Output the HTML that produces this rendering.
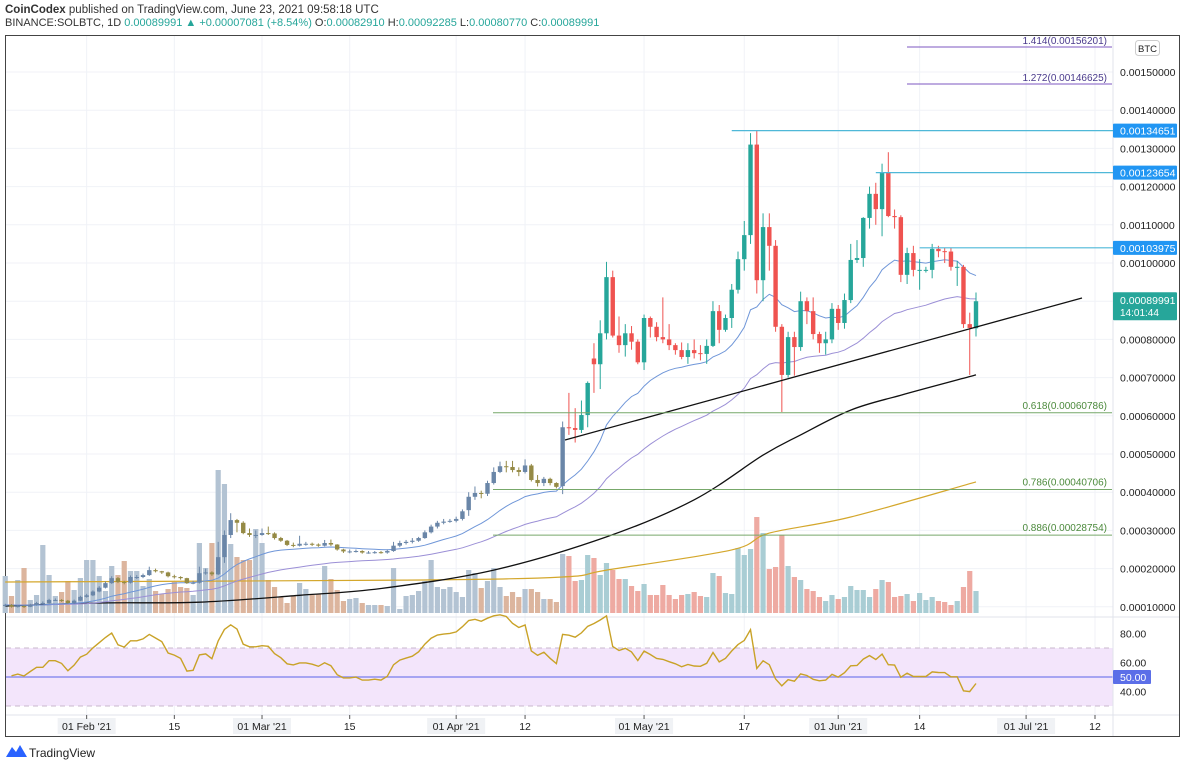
<!DOCTYPE html>
<html><head><meta charset="utf-8"><style>
html,body{margin:0;padding:0;background:#fff;}
svg{display:block;font-family:"Liberation Sans",sans-serif;}
</style></head><body>
<svg id="chart" width="1186" height="768" viewBox="0 0 1186 768" xmlns="http://www.w3.org/2000/svg">
<text x="5" y="13" font-size="11.5" fill="#333"><tspan font-weight="bold">CoinCodex</tspan> published on TradingView.com, June 23, 2021 09:58:18 UTC</text>
<text x="5" y="26" font-size="11" fill="#333">BINANCE:SOLBTC, 1D <tspan fill="#26a69a">0.00089991 ▲ +0.00007081 (+8.54%)</tspan> O:<tspan fill="#26a69a">0.00082910</tspan> H:<tspan fill="#26a69a">0.00092285</tspan> L:<tspan fill="#26a69a">0.00080770</tspan> C:<tspan fill="#26a69a">0.00089991</tspan></text>
<rect x="5.5" y="35.5" width="1174" height="701" fill="none" stroke="#444" stroke-width="1"/>
<g id="grid"></g>
<rect x="6" y="648" width="1107" height="58" fill="#f3e5fb"/>
<line x1="6" x2="1113" y1="648" y2="648" stroke="#c8b8cc" stroke-dasharray="5,4"/>
<line x1="6" x2="1113" y1="706" y2="706" stroke="#c8b8cc" stroke-dasharray="5,4"/>
<line x1="6" x2="1113" y1="677" y2="677" stroke="#8c8ff0" stroke-width="1.5"/>
<line x1="6" x2="1179" y1="617" y2="617" stroke="#e0e3eb"/>
<line x1="6" x2="1179" y1="715" y2="715" stroke="#e0e3eb"/>
<line x1="1113" x2="1113" y1="36" y2="736" stroke="#e0e3eb"/>
<g id="vol"></g>
<g id="mas"></g>
<g id="candles"></g>
<g id="drawings"></g>
<g id="axes"></g>
<g id="rsi"></g>
<g>
<path d="M6 757 L12 747 L16 752 L20 745 L27 757 Z" fill="#2962ff"/>
<text x="29" y="757" font-size="12" fill="#222">TradingView</text>
</g>
</svg>
<script>
// ---- data (price in units of 0.00001 BTC) ----
const closes=[10.5,10,10.2,10,10.5,11,11,11.8,11.8,11.6,11,11.6,12.6,13,14,15,16.2,17.5,16.5,16.3,17.8,17.8,18.3,19.6,19.3,19,18,17.8,17.5,16.2,16.3,18.8,19,18.5,23,28.8,32.7,32,29.3,28.8,28.8,29.3,29.2,28,27.3,26.2,26,26.5,26.5,26.3,26,26.7,26.3,25,24.5,24.5,24.6,24.2,24.2,24.3,24.2,24.6,26,26.7,
27,27.3,28,29.5,31,32,32.3,32.5,33,35,
38.8,39.8,39.6,42.4,45.3,46.8,46.6,45.8,45.3,47,43.2,42.4,43.5,42.4,41.4,57,56.8,56.3,60.2,68.6,73.5,81.6,96.3,81,78.5,81.6,79.4,74,85.6,83.3,80.6,80,78.5,77.2,75.4,77.2,76.4,76.2,78.3,
87.4,82.5,85.6,93,101,107.3,131,95.5,109.4,104.5,83.3,70.7,80.6,78,90,87.4,81.4,79,80,88,84.3,90.3,100.8,101.3,111.8,118.1,114.1,123.8,112.3,112,96.9,102.6,98.2,98.2,98.2,103.7,103.1,103,99,99,84,83,89.991];
const opens=[10.3,10.5,10,10.2,10,10.5,11,11,11.8,11.8,11.6,11,11.6,12.6,13,14,15,16.2,17.5,16.5,16.3,17.8,17.8,18.3,19.6,19.3,19,18,17.8,17.5,16.2,16.3,18.8,19,18.5,23,28.8,32.7,32,29.3,28.8,28.8,29.3,29.2,28,27.3,26.2,26,26.5,26.5,26.3,26,26.7,26.3,25,24.5,24.5,24.6,24.2,24.2,24.3,24.2,24.6,26,
26.7,27,27.3,28,29.5,31,32,32.3,32.5,33,
35.3,38.8,39.8,39.6,42.4,45.3,46.8,46.6,45.8,45.3,47,43.2,42.4,43.5,42.4,41.6,57,56.8,56.3,60.2,75,73.5,81.6,96.3,81,78.5,81.6,79.4,74,85.6,83.3,80.6,80,78.5,77.2,75.4,77.2,76.4,76.2,
78.3,87.4,82.5,85.6,93,101,107.3,131,95.5,109.4,104.5,83.3,70.7,80.6,78,90,87.4,81.4,79,80,88,84.3,90.3,100.8,101.3,111.8,118.1,114.1,123.8,112.3,112,96.9,102.6,98.2,98.2,98.2,103.7,103.1,103,99,99,84,82.91];
const highs=[10.8,10.7,10.5,10.4,10.8,11.3,11.4,12.1,12.2,12,11.8,11.9,12.9,13.4,14.3,15.4,16.6,18,17.8,16.8,18.2,18.3,18.7,20.5,20,19.4,19.2,18.4,18,17.6,16.8,20.5,20,19.3,27,30,34.5,33,32.4,30.5,30,30.5,31,29.5,28.3,27.5,26.8,28.6,27,26.8,26.6,27.5,27.6,26.4,25.2,25,25,24.8,24.6,24.6,24.6,25,27,27.3,
27.5,28,28.3,30,31.5,32.5,33,33,33.6,35.5,
40,41.5,40.4,43,46.5,48,48.2,48.2,46.5,48.6,47.4,44.5,44,43.8,42.6,58.5,66,62,64,69,79,85,100.3,98,86,84,83.5,80,86.5,86,84.5,91,84,79,79.2,79,80,78.5,80,
90,89,86.5,94.5,103,111,134,134.65,113,113,106,84,82,82,92.5,91,91,82,82,89.5,89,92,105,106,112,120,121,126,129,114,112.5,104,104.5,101,99,105,104.5,104,104,100.5,99.5,87,92.285];
const lows=[10,9.8,9.8,9.7,9.9,10.3,10.8,10.9,11.5,11.3,10.8,10.9,11.5,12.4,12.8,13.8,14.8,16,16.2,15.9,16.1,17.3,17.5,18.1,19,18.6,17.7,17.4,17.1,16,15.9,16.1,18.4,18.1,18.3,21.5,28,29.5,29,28.3,28,28.6,28.8,27.6,27,25.9,25.6,25.8,26,25.9,25.7,25.8,25.9,24.7,24.1,24,24.2,23.9,23.9,23.9,23.9,23.9,24.4,25.6,
26.3,26.6,27,27.8,29.2,30.5,31.6,32,32.1,32.6,
33.8,38,38.4,39,42,45,45.2,45.2,44.2,44.9,42.8,41.5,41.6,41.8,41,39.5,55,53,55.5,57,66,67,80,80.5,76.5,75.5,77.3,73.5,72,80.5,79.5,79,77.2,76,74.8,73.6,75,74.5,73.6,
78,79,82,83,92,98,105,92,90,98,82,61,70,70.5,77,84,80,76.5,76,79,82.5,82.8,89.5,100,99,109,110,107,112,109,95,94.5,96.5,93,97.5,96,101.5,100,98,94,83,70.7,80.77];
const volumes=[37,17,33,45,13,18,68,38,17,21,32,23,35,53,53,37,22,47,38,52,42,42,27,34,22,19,24,31,26,25,18,70,45,70,143,129,69,56,53,53,84,70,33,26,16,10,17,30,24,18,19,47,34,23,12,14,15,10,8,8,8,7,45,4,
17,18,22,32,53,26,24,26,21,16,43,40,25,32,45,26,17,21,16,24,24,21,14,14,11,59,57,32,33,58,55,38,50,43,34,34,27,22,29,18,18,28,18,14,18,19,21,17,16,40,37,20,19,65,58,64,96,80,44,46,78,47,36,33,24,22,16,12,18,14,16,27,23,23,16,24,33,31,16,17,19,12,20,13,16,12,11,8,12,26,42,22];
// long moving averages (sparse: candle index, value)
const ma200Idx=[0,15,31,47,60,78,96,110,121,127,135,143,155];
const ma200Val=[10.2,11,11.2,13,14.8,19.6,28.3,38,49.7,55,61.5,65.4,70.7];
const maGoldIdx=[0,64,89,96,116,122,135,155];
const maGoldVal=[16.5,17,17.8,19.6,24.9,29.3,33.5,42.7];
const priceTicks=[150,140,130,120,110,100,80,70,60,50,40,30,20,10];
const priceTickLabels=["0.00150000","0.00140000","0.00130000","0.00120000","0.00110000","0.00100000","0.00080000","0.00070000","0.00060000","0.00050000","0.00040000","0.00030000","0.00020000","0.00010000"];
const timeTickIdx=[13,27,41,55,72,83,102,118,133,146,163,174];
const timeTickLabels=["01 Feb '21","15","01 Mar '21","15","01 Apr '21","12","01 May '21","17","01 Jun '21","14","01 Jul '21","12"];
const rsiTicks=[80,60,40];
const fibLevels=[60.786,40.706,28.754];
const fibLabels=["0.618(0.00060786)","0.786(0.00040706)","0.886(0.00028754)"];
const extLevels=[156.201,146.625];
const extLabels=["1.414(0.00156201)","1.272(0.00146625)"];
const resLevels=[134.651,123.654,103.975];
const resLabels=["0.00134651","0.00123654","0.00103975"];
const resStartIdx=[116,139,146];

// ---- scales ----
const NS="http://www.w3.org/2000/svg";
const N=closes.length;
const step=6.263;
function xS(i){return 976-(N-1-i)*step;}
function yP(p){return 72+(150-p)*3.82;}
function yV(v){return 613-v;}
function yR(r){return 677-(r-50)*1.45;}
function mk(tag,attrs,parent){const e=document.createElementNS(NS,tag);for(const k in attrs)e.setAttribute(k,attrs[k]);parent.appendChild(e);return e;}
const G=id=>document.getElementById(id);

// grid
const grid=G('grid');
priceTicks.concat([90]).forEach(p=>{const l=mk('line',{x1:6,x2:1113,y1:yP(p),y2:yP(p),stroke:'#f0f2f7'},grid);

});
timeTickIdx.forEach(i=>{const l=mk('line',{x1:xS(i),x2:xS(i),y1:36,y2:715,stroke:'#f0f2f7'},grid);

});

// volume
const vol=G('vol');
for(let i=0;i<N;i++){const up=closes[i]>=opens[i];
const r=mk('rect',{x:xS(i)-2.6,y:yV(volumes[i]),width:5.2,height:volumes[i],fill:up?(i<90?'#b3c3d3':'#a9cdd4'):(i<90?'#dcb59e':'#eeaaa2')},vol);

}

// moving averages
function ema(arr,n){const k=2/(n+1);const out=[];let e=arr[0];for(let i=0;i<arr.length;i++){e=i?arr[i]*k+e*(1-k):arr[0];out.push(e);}return out;}
function poly(vals,idx,color,w,name,smooth){
const pts=vals.map((v,j)=>[xS(idx?idx[j]:j),yP(v)]);
let d='M'+pts[0][0].toFixed(1)+' '+pts[0][1].toFixed(1);
for(let j=1;j<pts.length;j++){
 if(smooth){const p0=pts[Math.max(0,j-2)],p1=pts[j-1],p2=pts[j],p3=pts[Math.min(pts.length-1,j+1)];
  const c1=[p1[0]+(p2[0]-p0[0])/6,p1[1]+(p2[1]-p0[1])/6],c2=[p2[0]-(p3[0]-p1[0])/6,p2[1]-(p3[1]-p1[1])/6];
  d+='C'+c1[0].toFixed(1)+' '+c1[1].toFixed(1)+' '+c2[0].toFixed(1)+' '+c2[1].toFixed(1)+' '+p2[0].toFixed(1)+' '+p2[1].toFixed(1);}
 else d+='L'+pts[j][0].toFixed(1)+' '+pts[j][1].toFixed(1);}
const p=mk('path',{d:d,fill:'none',stroke:color,'stroke-width':w},G('mas'));

}
poly(maGoldVal,maGoldIdx,'#d4a72c',1.2,'ma-gold-line',true);
poly(ma200Val,ma200Idx,'#111',1.3,'ma-200-line',true);
poly(ema(closes,50),null,'#9b8fd6',1,'ema-50-line',false);
poly(ema(closes,20),null,'#6f96d8',1,'ema-20-line',false);

// candles
const cg=G('candles');
for(let i=0;i<N;i++){const up=closes[i]>=opens[i];const faded=i<90;
const col=up?(faded?'#6a86a8':'#26a69a'):(faded?'#958a45':'#ef5350');
const x=xS(i);
const w=mk('line',{x1:x,x2:x,y1:yP(highs[i]),y2:yP(lows[i]),stroke:col,'stroke-width':1},cg);


const top=yP(Math.max(opens[i],closes[i])),bot=yP(Math.min(opens[i],closes[i]));
const b=mk('rect',{x:x-2.2,y:top,width:4.4,height:Math.max(1,bot-top),fill:col},cg);

}

// drawings
const dg=G('drawings');
const tl=mk('line',{x1:565,y1:440,x2:1082,y2:298,stroke:'#111','stroke-width':1.3},dg);


fibLevels.forEach((v,j)=>{const l=mk('line',{x1:493,x2:1112,y1:yP(v),y2:yP(v),stroke:'#77a86a','stroke-width':1},dg);


const t=mk('text',{x:1107,y:yP(v)-4,'font-size':10,fill:'#4c8a3c','text-anchor':'end'},dg);t.textContent=fibLabels[j];

});
extLevels.forEach((v,j)=>{const y=j?84:47;const l=mk('line',{x1:907,x2:1112,y1:y,y2:y,stroke:'#7e57c2','stroke-width':1},dg);


const t=mk('text',{x:1107,y:y-3,'font-size':10,fill:'#4a3a8c','text-anchor':'end'},dg);t.textContent=extLabels[j];

});
resLevels.forEach((v,j)=>{const y=yP(v);const l=mk('line',{x1:xS(resStartIdx[j]),x2:1113,y1:y,y2:y,stroke:'#4fb8d8','stroke-width':1.2},dg);


const r=mk('rect',{x:1113,y:y-7,width:64,height:14,rx:1,fill:'#2196f3'},dg);


const t=mk('text',{x:1120,y:y+4,'font-size':10.5,fill:'#fff'},dg);t.textContent=resLabels[j];

});

// axes
const ag=G('axes');
priceTicks.forEach((p,j)=>{const t=mk('text',{x:1120,y:yP(p)+4,'font-size':10.5,fill:'#222'},ag);t.textContent=priceTickLabels[j];

});
const bt=mk('rect',{x:1135.5,y:40.5,width:24,height:15,rx:3,fill:'#fff',stroke:'#ccc'},ag);


const btt=mk('text',{x:1147.5,y:52,'font-size':9.5,fill:'#222','text-anchor':'middle'},ag);btt.textContent='BTC';


const lastY=yP(closes[N-1]);
const cb=mk('rect',{x:1113,y:lastY-9,width:64,height:28,rx:1,fill:'#26a69a'},ag);


const ct=mk('text',{x:1120,y:lastY+3,'font-size':10.5,fill:'#fff'},ag);ct.textContent='0.00089991';


const cd=mk('text',{x:1120,y:lastY+15,'font-size':10,fill:'#fff'},ag);cd.textContent='14:01:44';


rsiTicks.forEach(r=>{const t=mk('text',{x:1120,y:yR(r)+4,'font-size':10.5,fill:'#222'},ag);t.textContent=r.toFixed(2);

});
const rb=mk('rect',{x:1113,y:670,width:38,height:14,rx:1,fill:'#5b6ee8'},ag);


const rt=mk('text',{x:1120,y:681,'font-size':10.5,fill:'#fff'},ag);rt.textContent='50.00';


timeTickIdx.forEach((i,j)=>{const lab=timeTickLabels[j];const x=xS(i);
if(lab.length>3){const bg=mk('rect',{x:x-29,y:718,width:58,height:16,fill:'#f0f2f5'},ag);

}
const tk=mk('line',{x1:x,x2:x,y1:715,y2:719,stroke:'#555'},ag);


const t=mk('text',{x:x,y:730,'font-size':10.5,fill:'#222','text-anchor':'middle'},ag);t.textContent=lab;

});

// RSI (14, Wilder) computed from closes, seeded with neutral averages
const rsiVals=[];let ag_=0.35,al_=0.3;
for(let i=1;i<N;i++){const ch=closes[i]-closes[i-1];const g=Math.max(ch,0),l=Math.max(-ch,0);
ag_=(ag_*13+g)/14;al_=(al_*13+l)/14;
rsiVals.push(al_===0?100:100-100/(1+ag_/al_));}
let rd='';rsiVals.forEach((v,j)=>{const vv=Math.max(20,Math.min(95,v));rd+=(j?'L':'M')+xS(j+1).toFixed(1)+' '+yR(vv).toFixed(1);});
const rp=mk('path',{d:rd,fill:'none',stroke:'#c9a227','stroke-width':1.4},G('rsi'));


</script>
</body></html>
